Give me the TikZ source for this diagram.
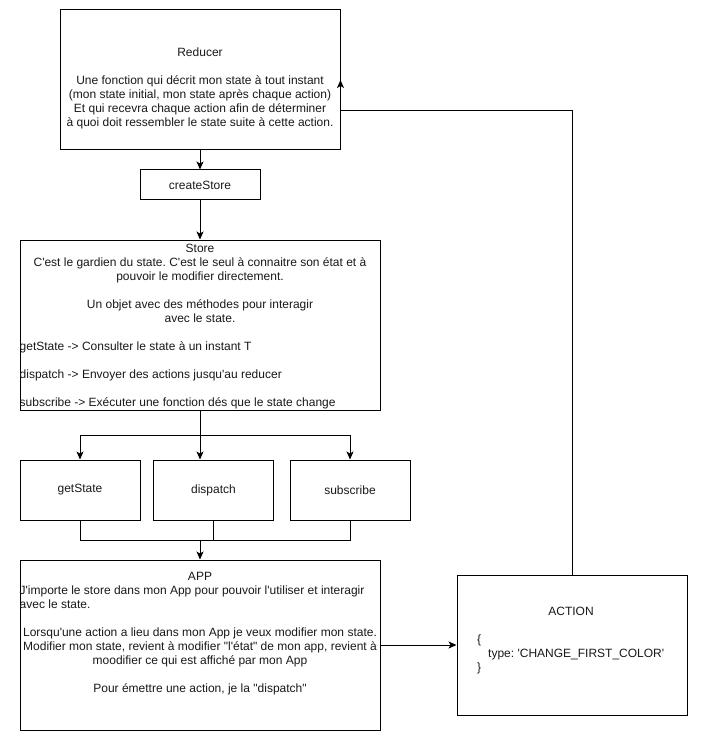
\documentclass[tikz,border=0pt]{standalone}
\usepackage{fontspec}
\setmainfont{Liberation Sans}[Ligatures=TeXOff]
\usetikzlibrary{arrows.meta}
\frenchspacing
\begin{document}
\begin{tikzpicture}[x=1pt,y=-1pt,
  box/.style={draw=black,line width=1pt,fill=white,inner sep=0pt},
  txt/.style={font=\fontsize{12}{14}\selectfont\frenchspacing,text=black!90,inner sep=0pt,anchor=base},
  ltxt/.style={txt,anchor=base west},
  conn/.style={draw=black,line width=1pt},
  arr/.style={conn,-{Stealth[length=8pt,width=7pt,inset=2pt]}}]
\useasboundingbox (0,0) rectangle (727,743);
\fill[white] (0,0) rectangle (727,743);
% boxes
\node[box,minimum width=280pt,minimum height=140pt] (reducer) at (200,80) {};
\node[box,minimum width=120pt,minimum height=30pt] (create) at (200,185) {};
\node[box,minimum width=360pt,minimum height=170pt] (store) at (200,325) {};
\node[box,minimum width=120pt,minimum height=60pt] (get) at (80,490) {};
\node[box,minimum width=120pt,minimum height=60pt] (disp) at (213.5,490) {};
\node[box,minimum width=120pt,minimum height=60pt] (sub) at (350,490) {};
\node[box,minimum width=360pt,minimum height=170pt] (app) at (200,645) {};
\node[box,minimum width=230pt,minimum height=140pt] (action) at (572,645) {};
% reducer text
\node[txt] (r1) at (200,57) {Reducer};
\node[txt] (r2) at (200,85) {Une fonction qui décrit mon state à tout instant};
\node[txt] (r3) at (200,99) {(mon state initial, mon state après chaque action)};
\node[txt] (r4) at (200,113) {Et qui recevra chaque action afin de déterminer};
\node[txt] (r5) at (200,127) {à quoi doit ressembler le state suite à cette action.};
% createStore
\node[txt,anchor=center] (c1) at (create.center) {createStore};
% store text
\node[txt] (s1) at (200,252) {Store};
\node[txt] (s2) at (200,266) {C'est le gardien du state. C'est le seul à connaitre son état et à};
\node[txt] (s3) at (200,280) {pouvoir le modifier directement.};
\node[txt] (s4) at (200,308) {Un objet avec des méthodes pour interagir};
\node[txt] (s5) at (200,322) {avec le state.};
\node[ltxt] (s6) at (19.5,350) {getState -> Consulter le state à un instant T};
\node[ltxt] (s7) at (19.5,378) {dispatch -> Envoyer des actions jusqu'au reducer};
\node[ltxt] (s8) at (19.5,406) {subscribe -> Exécuter une fonction dés que le state change};
% three method boxes
\node[txt,anchor=center] (g1) at (get.center) {getState};
\node[txt,anchor=center] (d1) at (disp.center) {dispatch};
\node[txt,anchor=center] (u1) at (sub.center) {subscribe};
% app text
\node[txt] (a1) at (200,580) {APP};
\node[ltxt] (a2) at (19.5,594) {J'importe le store dans mon App pour pouvoir l'utiliser et interagir};
\node[ltxt] (a3) at (19.5,608) {avec le state.};
\node[txt] (a4) at (200,636) {Lorsqu'une action a lieu dans mon App je veux modifier mon state.};
\node[txt] (a5) at (200,650) {Modifier mon state, revient à modifier "l'état" de mon app, revient à};
\node[txt] (a6) at (200,664) {moodifier ce qui est affiché par mon App};
\node[txt] (a7) at (200,692) {Pour émettre une action, je la "dispatch"};
% action text
\node[txt] (x1) at (571,615) {ACTION};
\node[ltxt] (x2) at (477,643) {\{};
\node[ltxt] (x3) at (488,657) {type: 'CHANGE\_FIRST\_COLOR'};
\node[ltxt] (x4) at (477,671) {\}};
% connectors
\draw[arr] (reducer.south) -- (create.north);
\draw[arr] (create.south) -- (store.north);
\coordinate (split) at (200,435);
\draw[arr] (store.south) -- (store.south |- disp.north);
\draw[arr] (store.south) -- (split) -| (get.north);
\draw[arr] (split) -| (sub.north);
\coordinate (merge) at (200,540);
\draw[conn] (get.south) |- (merge);
\draw[conn] (sub.south) |- (merge);
\draw[conn] (disp.south) -- (disp.south |- merge);
\draw[arr] (merge) -- (app.north);
\draw[arr] (app.east) -- (action.west);
\coordinate (turn) at (reducer.east |- 0,111);
\draw[arr] (action.north) |- (turn) -- (reducer.east);
\end{tikzpicture}
\end{document}
